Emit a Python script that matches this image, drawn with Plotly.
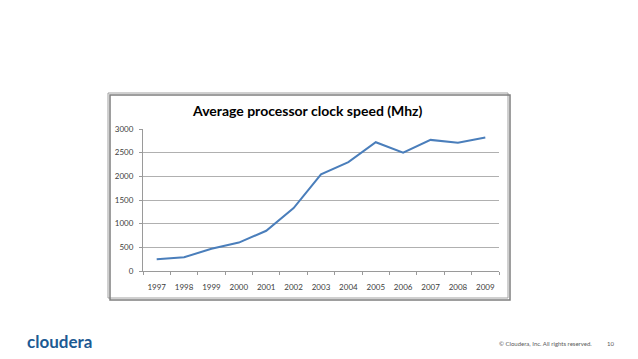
import plotly.graph_objects as go

# page body has an 8px default margin; size the figure to fill the rest of the window
OFF = 8
W, H = 638 - OFF, 359 - OFF
years = ["1997", "1998", "1999", "2000", "2001", "2002", "2003", "2004", "2005", "2006", "2007", "2008", "2009"]
speeds = [250, 290, 470, 600, 850, 1330, 2040, 2300, 2720, 2500, 2770, 2710, 2820]
title = "Average processor clock speed (Mhz)"

def px(x):
    return (x - OFF) / W

def py(y):
    return 1 - (y - OFF) / H

fig = go.Figure()
fig.add_trace(go.Scatter(x=years, y=speeds, mode="lines",
                         line=dict(color="#4a7ebb", width=2), showlegend=False))

fig.update_layout(
    width=W, height=H,
    margin=dict(l=0, r=0, t=0, b=0, autoexpand=False),
    paper_bgcolor="white", plot_bgcolor="white",
    font=dict(family="Lato, Open Sans, sans-serif"),
    xaxis=dict(domain=[px(143), px(499)], type="category", automargin=False,
               range=[-0.5, len(years) - 0.5], tickangle=0,
               showgrid=False, showline=True, linecolor="#9a9a9a", linewidth=1,
               ticks="outside", tickson="boundaries", ticklen=3, tickcolor="#9a9a9a",
               ticklabelstandoff=8,
               tickfont=dict(size=8, color="#404040"), fixedrange=True),
    yaxis=dict(domain=[py(271), py(129)], range=[0, 3000], dtick=500, automargin=False,
               showgrid=True, gridcolor="#b0b0b0", gridwidth=1,
               showline=True, linecolor="#9a9a9a", linewidth=1,
               ticks="outside", ticklen=3, tickcolor="#9a9a9a",
               ticklabelstandoff=4,
               tickfont=dict(size=8, color="#404040"), zeroline=False),
    shapes=[
        dict(type="rect", xref="paper", yref="paper",
             x0=px(110), x1=px(510), y0=py(300), y1=py(95),
             line=dict(color="#7f7f7f", width=1.5), fillcolor="rgba(0,0,0,0)"),
        dict(type="rect", xref="paper", yref="paper",
             x0=px(108), x1=px(508), y0=py(298), y1=py(93),
             line=dict(color="#a0a0a0", width=1), fillcolor="white", layer="below"),
    ],
    annotations=[
        dict(text="<b>" + title + "</b>", xref="paper", yref="paper",
             x=px(307), y=py(111), showarrow=False,
             font=dict(size=14, color="black", family="Lato, sans-serif"),
             xanchor="center", yanchor="middle"),
        dict(text="<b>cloudera</b>", xref="paper", yref="paper",
             x=px(25), y=py(341), showarrow=False,
             font=dict(size=17, color="#1d5a93", family="Lato, sans-serif"),
             xanchor="left", yanchor="middle"),
        dict(text="© Cloudera, Inc. All rights reserved.", xref="paper", yref="paper",
             x=px(594), y=py(343), showarrow=False,
             font=dict(size=6, color="#595959", family="Lato, sans-serif"),
             xanchor="right", yanchor="middle"),
        dict(text="10", xref="paper", yref="paper",
             x=px(610), y=py(343), showarrow=False,
             font=dict(size=6, color="#595959", family="Lato, sans-serif"),
             xanchor="center", yanchor="middle"),
    ],
)

fig.write_html("out.html")
